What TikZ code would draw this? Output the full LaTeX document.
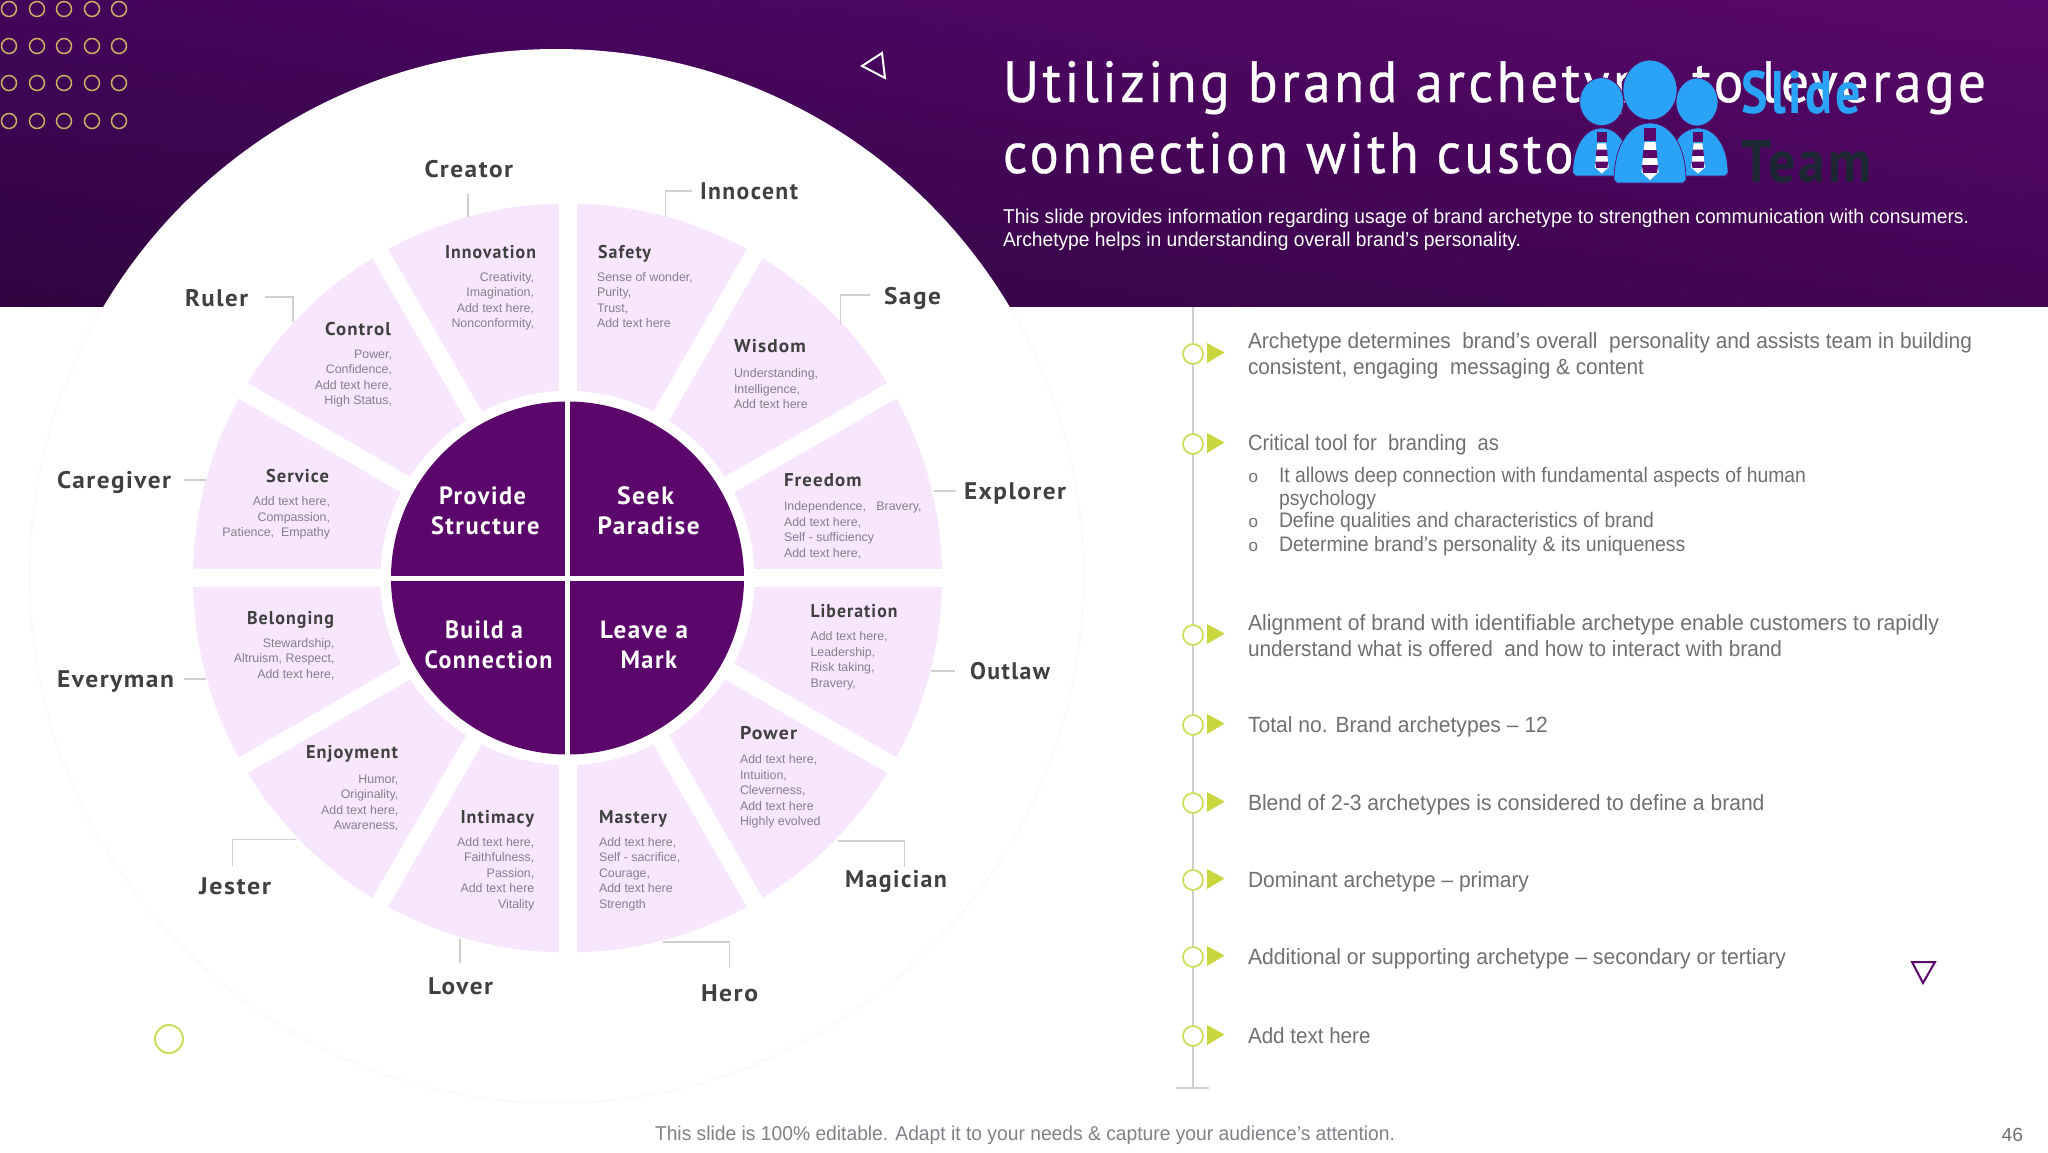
\documentclass[tikz,border=0pt]{standalone}
\usepackage{fontspec}
\usepackage{graphicx}
\setmainfont{Liberation Sans}
\newfontfamily\din[LetterSpace=6]{PT Sans}
\newfontfamily\dintitle[LetterSpace=6,FakeBold=0.6]{PT Sans}
\usetikzlibrary{calc,shadings}
\definecolor{HeaderTL}{HTML}{42055A}
\definecolor{HeaderTR}{HTML}{58086A}
\definecolor{HeaderBL}{HTML}{30043F}
\definecolor{HeaderBR}{HTML}{430555}
\definecolor{segpink}{HTML}{F7E6FD}
\definecolor{discedge}{HTML}{FCF8FD}
\definecolor{deeppurple}{HTML}{5A066B}
\definecolor{leaderg}{HTML}{CFCFCF}
\definecolor{ink}{HTML}{404040}
\definecolor{bodyg}{HTML}{707070}
\definecolor{smallg}{HTML}{858088}
\definecolor{lime}{HTML}{CFDC5E}
\definecolor{limefill}{HTML}{C9D63E}
\definecolor{gold}{HTML}{CDAE62}
\definecolor{logoblue}{HTML}{2AA2F5}
\definecolor{logodark}{HTML}{1C2733}
\newcommand{\fitw}[2]{\resizebox{#1pt}{\height}{#2}}
\tikzset{
  every node/.style={inner sep=0pt,outer sep=0pt},
  arch/.style={anchor=mid west,text=ink,font=\din\bfseries\fontsize{24}{28}\selectfont,yshift=-5pt},
  segtitle/.style={anchor=mid west,text=ink,font=\din\bfseries\fontsize{18.5}{22}\selectfont,yshift=-2.2pt},
  smallr/.style={anchor=north east,align=right,text=smallg,font=\fontsize{12.4}{15.5}\selectfont,yshift=-0.5pt},
  smalll/.style={anchor=north west,align=left,text=smallg,font=\fontsize{12.4}{15.5}\selectfont,yshift=-0.5pt},
  core/.style={anchor=mid west,text=white,font=\din\bfseries\fontsize{25}{30}\selectfont,yshift=-4.5pt},
  bodyline/.style={anchor=mid west,text=bodyg,font=\fontsize{22}{26}\selectfont,yshift=-4pt},
  subline/.style={anchor=mid west,text=bodyg,font=\fontsize{21}{25}\selectfont,yshift=-4pt},
  leader/.style={draw=leaderg,line width=1.2pt},
  ringdot/.style={draw=gold,line width=1.5pt},
  stepring/.style={circle,draw=lime,fill=white,line width=1.8pt,minimum size=20pt},
  steptri/.style={fill=limefill},
}
\newcommand{\person}[4]{% cx top bottom halfwidth
  \begin{scope}[shift={(#1,#2)}]
    \pgfmathsetmacro{\hw}{#4}\pgfmathsetmacro{\hh}{#3-#2}
    \pgfmathsetmacro{\tw}{\hh*0.13}
    \filldraw[fill=logoblue,draw=deeppurple,line width=0.7pt] (-\hw,\hh-3) .. controls (-\hw,0.4*\hh) and (-0.6*\hw,0) .. (0,0)
       .. controls (0.6*\hw,0) and (\hw,0.4*\hh) .. (\hw,\hh-3) -- (\hw-3,\hh) -- (-\hw+3,\hh) -- cycle;
    \fill[deeppurple] (-0.8*\tw,0.09*\hh) rectangle (0.8*\tw,0.3*\hh);
    \fill[white] (-0.7*\tw,0.32*\hh) -- (0.7*\tw,0.32*\hh) -- (1.1*\tw,0.82*\hh) -- (0,0.95*\hh) -- (-1.1*\tw,0.82*\hh) -- cycle;
    \fill[deeppurple] (-0.85*\tw,0.45*\hh) -- (0.85*\tw,0.45*\hh) -- (0.95*\tw,0.58*\hh) -- (-0.95*\tw,0.58*\hh) -- cycle;
    \fill[deeppurple] (-1.05*\tw,0.7*\hh) -- (1.05*\tw,0.7*\hh) -- (0.9*\tw,0.83*\hh) -- (-0.9*\tw,0.83*\hh) -- cycle;
  \end{scope}}
\begin{document}
\begin{tikzpicture}[x=1pt,y=-1pt,line join=miter]
\useasboundingbox (0,0) rectangle (2048,1152);
\fill[white] (0,0) rectangle (2048,1152);
% header band
\shade[upper left=HeaderTL,upper right=HeaderTR,lower left=HeaderBL,lower right=HeaderBR] (0,0) rectangle (2048,306.5);
% large white disc
\coordinate (disc) at (556.5,576);
\fill[white] (disc) circle[radius=527];
\begin{scope}
  \clip (0,309) rectangle (2048,1152);
  \draw[discedge,line width=2pt] (disc) circle[radius=527];
\end{scope}
% gold dot grid
\foreach \gx in {9,37,64,92,119}{\foreach \gy in {9,46,83,121}{\draw[ringdot] (\gx,\gy) circle[radius=7.5];}}
% wheel
\coordinate (wc) at (567.5,578);
\fill[segpink,even odd rule] (wc) circle[radius=374.5] (wc) circle[radius=187];
\foreach \a in {0,30,...,150}{\draw[white,line width=18pt] ($(wc)+(\a:377)$) -- ($(wc)+(\a+180:377)$);}
\fill[white] (wc) circle[radius=187];
\fill[deeppurple] (wc) circle[radius=176.5];
\draw[white,line width=5pt] ($(wc)+(0,-180)$) -- ($(wc)+(0,180)$);
\draw[white,line width=5pt] ($(wc)+(-180,0)$) -- ($(wc)+(180,0)$);
% core labels
\node[core] (provide) at (439,497) {\fitw{87}{Provide}};
\node[core] (structure) at (431,527.6) {\fitw{108.5}{Structure}};
\node[core] (seek) at (617,497) {\fitw{57}{Seek}};
\node[core] (paradise) at (597.6,527.6) {\fitw{102}{Paradise}};
\node[core] (builda) at (445,631) {\fitw{78}{Build a}};
\node[core] (connection) at (424.5,661) {\fitw{128}{Connection}};
\node[core] (leavea) at (600,631) {\fitw{88}{Leave a}};
\node[core] (mark) at (620.5,661) {\fitw{56.5}{Mark}};
% archetype labels
\node[arch] (creator) at (424.5,169.5) {\fitw{88.5}{Creator}};
\node[arch] (innocent) at (700,192) {\fitw{98}{Innocent}};
\node[arch] (ruler) at (185,299) {\fitw{63}{Ruler}};
\node[arch] (sage) at (884,296.5) {\fitw{57}{Sage}};
\node[arch] (caregiver) at (57,480.5) {\fitw{114}{Caregiver}};
\node[arch] (explorer) at (964,491.5) {\fitw{102}{Explorer}};
\node[arch] (everyman) at (57,680) {\fitw{117}{Everyman}};
\node[arch] (outlaw) at (970,672) {\fitw{80}{Outlaw}};
\node[arch] (jester) at (199,887) {\fitw{72}{Jester}};
\node[arch] (lover) at (428,987) {\fitw{65}{Lover}};
\node[arch] (hero) at (701,993.5) {\fitw{57}{Hero}};
\node[arch] (magician) at (845,880) {\fitw{102}{Magician}};
% leader lines
\coordinate (l1a) at (468,194); \coordinate (l1b) at (468,217); \draw[leader] (l1a) -- (l1b);
\coordinate (l2a) at (692,191); \coordinate (l2b) at (665.5,191); \coordinate (l2c) at (665.5,217); \draw[leader] (l2a) -- (l2b) -- (l2c);
\coordinate (l3a) at (264.5,297); \coordinate (l3b) at (293,297); \coordinate (l3c) at (293,322); \draw[leader] (l3a) -- (l3b) -- (l3c);
\coordinate (l4a) at (870,295); \coordinate (l4b) at (840.6,295); \coordinate (l4c) at (840.6,324); \draw[leader] (l4a) -- (l4b) -- (l4c);
\coordinate (l5a) at (184,480); \coordinate (l5b) at (206,480); \draw[leader] (l5a) -- (l5b);
\coordinate (l6a) at (934,491); \coordinate (l6b) at (956,491); \draw[leader] (l6a) -- (l6b);
\coordinate (l7a) at (184,679); \coordinate (l7b) at (206,679); \draw[leader] (l7a) -- (l7b);
\coordinate (l8a) at (931,671); \coordinate (l8b) at (955,671); \draw[leader] (l8a) -- (l8b);
\coordinate (l9a) at (297,839.5); \coordinate (l9b) at (232.5,839.5); \coordinate (l9c) at (232.5,866); \draw[leader] (l9a) -- (l9b) -- (l9c);
\coordinate (l10a) at (460,939); \coordinate (l10b) at (460,963); \draw[leader] (l10a) -- (l10b);
\coordinate (l11a) at (663,942); \coordinate (l11b) at (729.6,942); \coordinate (l11c) at (729.6,968); \draw[leader] (l11a) -- (l11b) -- (l11c);
\coordinate (l12a) at (838,841); \coordinate (l12b) at (904.6,841); \coordinate (l12c) at (904.6,867); \draw[leader] (l12a) -- (l12b) -- (l12c);
% segment titles
\node[segtitle] (t1) at (445,254) {\fitw{91}{Innovation}};
\node[segtitle] (t2) at (598,254) {\fitw{53}{Safety}};
\node[segtitle] (t3) at (325,330.5) {\fitw{66}{Control}};
\node[segtitle] (t4) at (734,348) {\fitw{72}{Wisdom}};
\node[segtitle] (t5) at (266,478) {\fitw{63}{Service}};
\node[segtitle] (t6) at (784,481.5) {\fitw{77.5}{Freedom}};
\node[segtitle] (t7) at (247,619.5) {\fitw{87}{Belonging}};
\node[segtitle] (t8) at (810.5,613) {\fitw{87}{Liberation}};
\node[segtitle] (t9) at (306,754) {\fitw{92}{Enjoyment}};
\node[segtitle] (t10) at (740,735) {\fitw{57}{Power}};
\node[segtitle] (t11) at (460.5,819) {\fitw{73.5}{Intimacy}};
\node[segtitle] (t12) at (599,819) {\fitw{68}{Mastery}};
% segment small text
\node[smallr] (s1) at (534,271.8) {Creativity,\\Imagination,\\Add text here,\\Nonconformity,};
\node[smalll] (s2) at (597,271.8) {Sense of wonder,\\Purity,\\Trust,\\Add text here};
\node[smallr] (s3) at (392,349.3) {Power,\\Confidence,\\Add text here,\\High Status,};
\node[smalll] (s4) at (734,368.3) {Understanding,\\Intelligence,\\Add text here};
\node[smallr] (s5) at (330,496.3) {Add text here,\\Compassion,\\Patience,\ \ Empathy};
\node[smalll] (s6) at (784,501.3) {Independence,\ \ \ Bravery,\\Add text here,\\Self - sufficiency\\Add text here,};
\node[smallr] (s7) at (334.5,637.8) {Stewardship,\\Altruism, Respect,\\Add text here,};
\node[smalll] (s8) at (810.5,631.3) {Add text here,\\Leadership,\\Risk taking,\\Bravery,};
\node[smallr] (s9) at (398.4,774.3) {Humor,\\Originality,\\Add text here,\\Awareness,};
\node[smalll] (s10) at (740,754.3) {Add text here,\\Intuition,\\Cleverness,\\Add text here\\Highly evolved};
\node[smallr] (s11) at (534.3,836.7) {Add text here,\\Faithfulness,\\Passion,\\Add text here\\Vitality};
\node[smalll] (s12) at (599,836.7) {Add text here,\\Self - sacrifice,\\Courage,\\Add text here\\Strength};
% title and subtitle
\node[anchor=base west,text=white,font=\dintitle\fontsize{58}{64}\selectfont] (title1) at (1003,102) {\fitw{983}{Utilizing brand archetype to leverage}};
\node[anchor=base west,text=white,font=\dintitle\fontsize{58}{64}\selectfont] (title2) at (1003,173) {\fitw{697}{connection with customers}};
\node[anchor=mid west,text=white,font=\fontsize{20}{24}\selectfont,yshift=-4pt] (sub1) at (1003,217) {\fitw{966}{This slide provides information regarding usage of brand archetype to strengthen communication with consumers.}};
\node[anchor=mid west,text=white,font=\fontsize{20}{24}\selectfont,yshift=-4pt] (sub2) at (1003,240) {\fitw{518}{Archetype helps in understanding overall brand's personality.}};
% logo
\person{1601.7}{128}{176}{29}
\person{1698}{128}{176}{30}
\filldraw[fill=logoblue,draw=deeppurple,line width=0.7pt] (1601.7,101.7) ellipse[x radius=22,y radius=24];
\filldraw[fill=logoblue,draw=deeppurple,line width=0.7pt] (1697,102) ellipse[x radius=21,y radius=24];
\person{1650}{123}{183}{36}
\filldraw[fill=logoblue,draw=deeppurple,line width=0.7pt] (1650,90) ellipse[x radius=27,y radius=30];
\node[anchor=base west,text=logoblue,font=\din\bfseries\fontsize{60}{66}\selectfont] (slide) at (1741.6,113) {\fitw{119}{Slide}};
\node[anchor=base west,text=logodark,font=\din\bfseries\fontsize{60}{66}\selectfont] (team) at (1741.6,182) {\fitw{130}{Team}};
% decorative triangles and ring
\draw[white,line width=2pt] (862,66) -- (882,53) -- (885,78) -- cycle;
\draw[deeppurple,line width=2pt] (1912,962) -- (1935,962) -- (1923,983) -- cycle;
\draw[lime,line width=2pt] (169,1039) circle[radius=14];
% timeline
\coordinate (tlt) at (1193,307); \coordinate (tlb) at (1193,1088);
\coordinate (tll) at (1176,1088); \coordinate (tlr) at (1209,1088);
\draw[leader] (tlt) -- (tlb);
\draw[leader] (tll) -- (tlr);
\foreach \nm/\yy in {a/354,b/444,c/635,d/725,e/803,f/880,g/957,h/1036}{
  \node[stepring] (ring\nm) at (1193,\yy) {};
  \fill[steptri] (1207,\yy-11) -- (1224.5,\yy-1.5) -- (1207,\yy+9) -- cycle;
}
% bullet texts
\node[bodyline] (b1a) at (1248,342) {\fitw{724}{Archetype determines\ \ brand's overall\ \ personality and assists team in building}};
\node[bodyline] (b1b) at (1248,367.5) {\fitw{396}{consistent, engaging\ \ messaging \& content}};
\node[bodyline] (b2) at (1248,444) {\fitw{251}{Critical tool for\ \ branding\ \ as}};
\node[subline,font=\fontsize{17}{20}\selectfont] (o1) at (1248.5,476) {o};
\node[subline] (b2a) at (1279,476) {\fitw{527}{It allows deep connection with fundamental aspects of human}};
\node[subline] (b2ab) at (1279,499) {\fitw{97}{psychology}};
\node[subline,font=\fontsize{17}{20}\selectfont] (o2) at (1248.5,521) {o};
\node[subline] (b2b) at (1279,521) {\fitw{375}{Define qualities and characteristics of brand}};
\node[subline,font=\fontsize{17}{20}\selectfont] (o3) at (1248.5,545) {o};
\node[subline] (b2c) at (1279,545) {\fitw{406.5}{Determine brand's personality \& its uniqueness}};
\node[bodyline] (b3a) at (1248,624) {\fitw{691}{Alignment of brand with identifiable archetype enable customers to rapidly}};
\node[bodyline] (b3b) at (1248,649.5) {\fitw{534}{understand what is offered\ \ and how to interact with brand}};
\node[bodyline] (b4) at (1248,726) {\fitw{300}{Total no. Brand archetypes -- 12}};
\node[bodyline] (b5) at (1248,804) {\fitw{516.5}{Blend of 2-3 archetypes is considered to define a brand}};
\node[bodyline] (b6) at (1248,880.5) {\fitw{281}{Dominant archetype -- primary}};
\node[bodyline] (b7) at (1248,958) {\fitw{538}{Additional or supporting archetype -- secondary or tertiary}};
\node[bodyline] (b8) at (1248,1037) {\fitw{122.5}{Add text here}};
% footer
\node[anchor=mid west,text=smallg,font=\fontsize{20}{24}\selectfont,yshift=-4pt] (foot) at (655,1134) {\fitw{740}{This slide is 100\% editable. Adapt it to your needs \& capture your audience's attention.}};
\node[anchor=mid west,text=bodyg,font=\fontsize{19}{24}\selectfont,yshift=-4pt] (page) at (2001.6,1135) {\fitw{21.5}{46}};
\end{tikzpicture}
\end{document}
